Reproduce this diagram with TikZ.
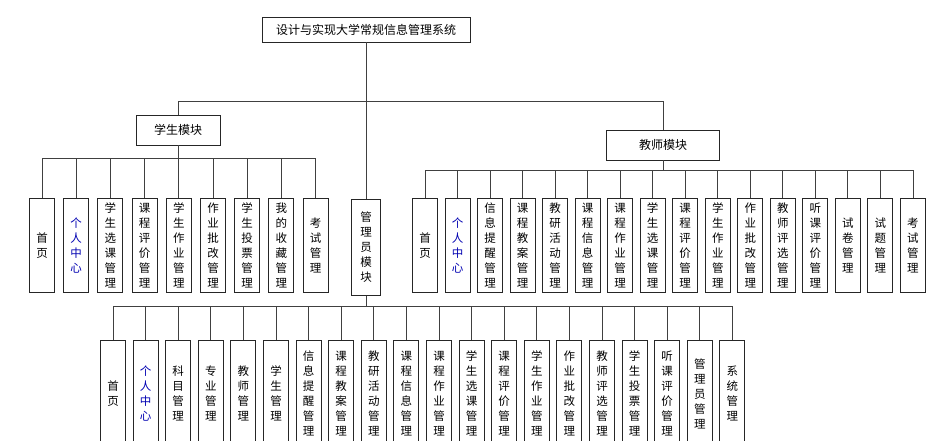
\documentclass[tikz,border=0pt]{standalone}
\usepackage{fontspec}
\setmainfont{Noto Sans CJK SC}
\XeTeXlinebreaklocale "zh"
\XeTeXlinebreakskip=0pt plus 1pt
\begin{document}
\begin{tikzpicture}[x=1pt,y=-1pt,
  hbox/.style={draw=black!85,line width=0.9pt,fill=white,font=\fontsize{12}{14}\selectfont,inner sep=0pt},
  leaf/.style={draw=black!85,line width=0.9pt,fill=white,minimum width=25pt,text width=12pt,align=center,inner sep=0pt,font=\fontsize{11.5}{15}\selectfont,anchor=north},
  ln/.style={draw=black!75,line width=0.8pt}]
\useasboundingbox (0,0) rectangle (946,441);
\fill[white] (0,0) rectangle (946,441);
\node[hbox,minimum width=208pt,minimum height=25pt] (root) at (366,29.5) {设计与实现大学常规信息管理系统};
\node[hbox,minimum width=84pt,minimum height=30pt] (stu) at (178,130) {学生模块};
\node[hbox,minimum width=113pt,minimum height=30pt] (tea) at (663,145) {教师模块};
\node[leaf,minimum width=29pt,minimum height=96pt] (adm) at (366,199) {管理员模块};
\coordinate (b1) at (0,101);
\draw[ln] (root.south) -- (adm.north);
\draw[ln] (stu.north) -- (stu.north |- b1) -- (tea.north |- b1) -- (tea.north);
% student
\coordinate (b2) at (0,158);
\foreach \t [count=\i] in {首页,{\color{blue!70!black}个人中心},学生选课管理,课程评价管理,学生作业管理,作业批改管理,学生投票管理,我的收藏管理,考试管理}{
  \node[leaf,minimum height=94pt] (s\i) at ({42+34.2*(\i-1)},198) {\t};
  \draw[ln] (s\i.north) -- (s\i.north |- b2);
}
\draw[ln] (stu.south) -- (stu.south |- b2);
\draw[ln] (s1.north |- b2) -- (s9.north |- b2);
% teacher
\coordinate (b3) at (0,170);
\foreach \t [count=\i] in {首页,{\color{blue!70!black}个人中心},信息提醒管理,课程教案管理,教研活动管理,课程信息管理,课程作业管理,学生选课管理,课程评价管理,学生作业管理,作业批改管理,教师评选管理,听课评价管理,试卷管理,试题管理,考试管理}{
  \node[leaf,minimum height=94pt] (t\i) at ({425+32.53*(\i-1)},198) {\t};
  \draw[ln] (t\i.north) -- (t\i.north |- b3);
}
\draw[ln] (tea.south) -- (tea.south |- b3);
\draw[ln] (t1.north |- b3) -- (t16.north |- b3);
% admin
\coordinate (b4) at (0,306);
\foreach \t [count=\i] in {首页,{\color{blue!70!black}个人中心},科目管理,专业管理,教师管理,学生管理,信息提醒管理,课程教案管理,教研活动管理,课程信息管理,课程作业管理,学生选课管理,课程评价管理,学生作业管理,作业批改管理,教师评选管理,学生投票管理,听课评价管理,管理员管理,系统管理}{
  \node[leaf,minimum height=106pt] (a\i) at ({113+32.6*(\i-1)},340) {\t};
  \draw[ln] (a\i.north) -- (a\i.north |- b4);
}
\draw[ln] (adm.south) -- (adm.south |- b4);
\draw[ln] (a1.north |- b4) -- (a20.north |- b4);
\end{tikzpicture}
\end{document}
